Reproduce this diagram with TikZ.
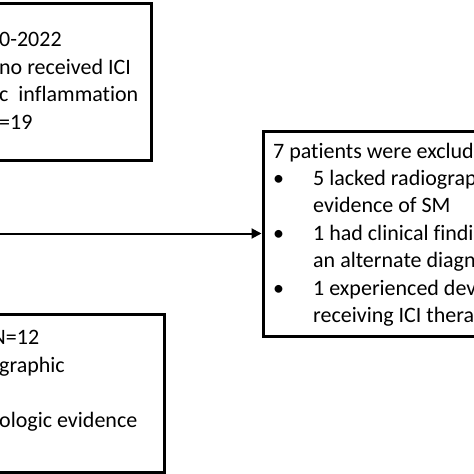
\documentclass[tikz,border=0pt]{standalone}
\usepackage{fontspec}
\setmainfont{Carlito}[Ligatures=NoCommon]
\usepackage{xcolor}
\usetikzlibrary{arrows.meta,positioning}
\definecolor{ink}{HTML}{000000}
\tikzset{
  flowbox/.style={
    rectangle,
    draw=ink,
    line width=3pt,
    fill=white,
    inner sep=0pt
  },
  boxtext/.style={
    align=left,
    anchor=base west,
    inner sep=0pt,
    text=ink,
    font=\fontsize{22}{27.4}\selectfont
  },
  flow/.style={
    -{Triangle[length=10pt,width=10pt]},
    draw=ink,
    line width=2pt
  }
}

\begin{document}
\begin{tikzpicture}[x=1pt, y=-1pt]
\useasboundingbox (0,0) rectangle (474,474);
\clip (0,0) rectangle (474,474);

% Left column: cohort and included patients.
% (text nodes sit on the baseline of their last line)
\node[flowbox, minimum width=351pt, minimum height=157pt] (cohort) at (-24.5,81.5) {};
\node[boxtext] (cohorttext) at (-1,129) {
  0-2022\\
  no received ICI\\
  c\ \ inflammation\\
  =19
};

\node[flowbox, minimum width=364pt, minimum height=158pt] (included) at (-18,393) {};
\node[boxtext] (includedtext) at (-1,427) {
  \hspace*{-7.5pt}N=12\\
  graphic\\
  \\
  ologic evidence
};

% Right column: excluded patients.
\node[flowbox, minimum width=337pt, minimum height=205pt] (excluded) at (431.5,233.5) {};
\node[boxtext] (excludedtext) at (273,322.5) {
  7 patients were exclud\\
  \makebox[40pt][l]{\textbullet}5 lacked radiograph\\
  \hspace*{40pt}evidence\ of SM\\
  \makebox[40pt][l]{\textbullet}1 had clinical findin\\
  \hspace*{40pt}an alternate\ diagno\\
  \makebox[40pt][l]{\textbullet}1 experienced\ dev\\
  \hspace*{40pt}receiving ICI thera
};

% Arrow into the exclusion box.
\coordinate (split) at (-5,233.5);
\draw[flow] (split) -- (excluded.west);

\end{tikzpicture}
\end{document}
